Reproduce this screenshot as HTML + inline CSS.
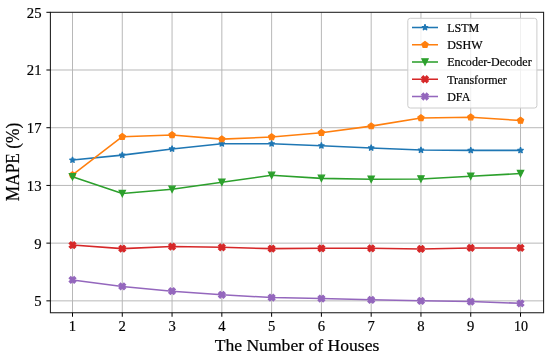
<!DOCTYPE html>
<html><head><meta charset="utf-8"><title>MAPE vs Number of Houses</title>
<style>html,body{margin:0;padding:0;background:#fff}svg{display:block}text{font-family:"Liberation Serif","Times New Roman",serif;fill:#000;stroke:#000;stroke-width:0.2px}</style></head><body>
<svg width="550" height="356" viewBox="0 0 550 356">
<rect width="550" height="356" fill="#fff"/>
<path d="M72.50 12.3 V312.75 M122.28 12.3 V312.75 M172.06 12.3 V312.75 M221.84 12.3 V312.75 M271.62 12.3 V312.75 M321.40 12.3 V312.75 M371.18 12.3 V312.75 M420.96 12.3 V312.75 M470.74 12.3 V312.75 M520.52 12.3 V312.75 M50.4 300.85 H543.6 M50.4 243.14 H543.6 M50.4 185.43 H543.6 M50.4 127.72 H543.6 M50.4 70.01 H543.6" stroke="#b4b4b4" stroke-width="0.95" fill="none"/>
<g><polyline points="72.50,160.04 122.28,155.13 172.06,148.93 221.84,143.73 271.62,143.73 321.40,145.75 371.18,147.92 420.96,150.08 470.74,150.37 520.52,150.37" fill="none" stroke="#1f77b4" stroke-width="1.55" stroke-linejoin="round" stroke-linecap="butt"/>
<polygon points="72.50,156.84 73.22,159.05 75.54,159.05 73.66,160.42 74.38,162.63 72.50,161.26 70.62,162.63 71.34,160.42 69.46,159.05 71.78,159.05" fill="#1f77b4" stroke="#1f77b4" stroke-width="1.2" stroke-linejoin="bevel"/>
<polygon points="122.28,151.93 123.00,154.14 125.32,154.14 123.44,155.51 124.16,157.72 122.28,156.35 120.40,157.72 121.12,155.51 119.24,154.14 121.56,154.14" fill="#1f77b4" stroke="#1f77b4" stroke-width="1.2" stroke-linejoin="bevel"/>
<polygon points="172.06,145.73 172.78,147.94 175.10,147.94 173.22,149.31 173.94,151.52 172.06,150.15 170.18,151.52 170.90,149.31 169.02,147.94 171.34,147.94" fill="#1f77b4" stroke="#1f77b4" stroke-width="1.2" stroke-linejoin="bevel"/>
<polygon points="221.84,140.53 222.56,142.75 224.88,142.75 223.00,144.11 223.72,146.32 221.84,144.96 219.96,146.32 220.68,144.11 218.80,142.75 221.12,142.75" fill="#1f77b4" stroke="#1f77b4" stroke-width="1.2" stroke-linejoin="bevel"/>
<polygon points="271.62,140.53 272.34,142.75 274.66,142.75 272.78,144.11 273.50,146.32 271.62,144.96 269.74,146.32 270.46,144.11 268.58,142.75 270.90,142.75" fill="#1f77b4" stroke="#1f77b4" stroke-width="1.2" stroke-linejoin="bevel"/>
<polygon points="321.40,142.55 322.12,144.77 324.44,144.77 322.56,146.13 323.28,148.34 321.40,146.98 319.52,148.34 320.24,146.13 318.36,144.77 320.68,144.77" fill="#1f77b4" stroke="#1f77b4" stroke-width="1.2" stroke-linejoin="bevel"/>
<polygon points="371.18,144.72 371.90,146.93 374.22,146.93 372.34,148.30 373.06,150.51 371.18,149.14 369.30,150.51 370.02,148.30 368.14,146.93 370.46,146.93" fill="#1f77b4" stroke="#1f77b4" stroke-width="1.2" stroke-linejoin="bevel"/>
<polygon points="420.96,146.88 421.68,149.09 424.00,149.09 422.12,150.46 422.84,152.67 420.96,151.30 419.08,152.67 419.80,150.46 417.92,149.09 420.24,149.09" fill="#1f77b4" stroke="#1f77b4" stroke-width="1.2" stroke-linejoin="bevel"/>
<polygon points="470.74,147.17 471.46,149.38 473.78,149.38 471.90,150.75 472.62,152.96 470.74,151.59 468.86,152.96 469.58,150.75 467.70,149.38 470.02,149.38" fill="#1f77b4" stroke="#1f77b4" stroke-width="1.2" stroke-linejoin="bevel"/>
<polygon points="520.52,147.17 521.24,149.38 523.56,149.38 521.68,150.75 522.40,152.96 520.52,151.59 518.64,152.96 519.36,150.75 517.48,149.38 519.80,149.38" fill="#1f77b4" stroke="#1f77b4" stroke-width="1.2" stroke-linejoin="bevel"/>
</g>
<g><polyline points="72.50,174.90 122.28,136.67 172.06,135.08 221.84,139.12 271.62,137.10 321.40,132.77 371.18,126.13 420.96,117.91 470.74,117.19 520.52,120.51" fill="none" stroke="#ff7f0e" stroke-width="1.55" stroke-linejoin="round" stroke-linecap="butt"/>
<polygon points="72.50,171.65 75.59,173.89 74.41,177.53 70.59,177.53 69.41,173.89" fill="#ff7f0e" stroke="#ff7f0e" stroke-width="1.2" stroke-linejoin="miter"/>
<polygon points="122.28,133.42 125.37,135.66 124.19,139.29 120.37,139.29 119.19,135.66" fill="#ff7f0e" stroke="#ff7f0e" stroke-width="1.2" stroke-linejoin="miter"/>
<polygon points="172.06,131.83 175.15,134.07 173.97,137.71 170.15,137.71 168.97,134.07" fill="#ff7f0e" stroke="#ff7f0e" stroke-width="1.2" stroke-linejoin="miter"/>
<polygon points="221.84,135.87 224.93,138.11 223.75,141.75 219.93,141.75 218.75,138.11" fill="#ff7f0e" stroke="#ff7f0e" stroke-width="1.2" stroke-linejoin="miter"/>
<polygon points="271.62,133.85 274.71,136.09 273.53,139.73 269.71,139.73 268.53,136.09" fill="#ff7f0e" stroke="#ff7f0e" stroke-width="1.2" stroke-linejoin="miter"/>
<polygon points="321.40,129.52 324.49,131.77 323.31,135.40 319.49,135.40 318.31,131.77" fill="#ff7f0e" stroke="#ff7f0e" stroke-width="1.2" stroke-linejoin="miter"/>
<polygon points="371.18,122.88 374.27,125.13 373.09,128.76 369.27,128.76 368.09,125.13" fill="#ff7f0e" stroke="#ff7f0e" stroke-width="1.2" stroke-linejoin="miter"/>
<polygon points="420.96,114.66 424.05,116.90 422.87,120.54 419.05,120.54 417.87,116.90" fill="#ff7f0e" stroke="#ff7f0e" stroke-width="1.2" stroke-linejoin="miter"/>
<polygon points="470.74,113.94 473.83,116.18 472.65,119.82 468.83,119.82 467.65,116.18" fill="#ff7f0e" stroke="#ff7f0e" stroke-width="1.2" stroke-linejoin="miter"/>
<polygon points="520.52,117.26 523.61,119.50 522.43,123.14 518.61,123.14 517.43,119.50" fill="#ff7f0e" stroke="#ff7f0e" stroke-width="1.2" stroke-linejoin="miter"/>
</g>
<g><polyline points="72.50,176.77 122.28,193.51 172.06,189.33 221.84,182.26 271.62,175.33 321.40,178.36 371.18,179.23 420.96,178.94 470.74,176.20 520.52,173.60" fill="none" stroke="#2ca02c" stroke-width="1.55" stroke-linejoin="round" stroke-linecap="butt"/>
<polygon points="72.50,179.92 75.65,173.62 69.35,173.62" fill="#2ca02c" stroke="#2ca02c" stroke-width="1.2" stroke-linejoin="miter"/>
<polygon points="122.28,196.66 125.43,190.36 119.13,190.36" fill="#2ca02c" stroke="#2ca02c" stroke-width="1.2" stroke-linejoin="miter"/>
<polygon points="172.06,192.48 175.21,186.18 168.91,186.18" fill="#2ca02c" stroke="#2ca02c" stroke-width="1.2" stroke-linejoin="miter"/>
<polygon points="221.84,185.41 224.99,179.11 218.69,179.11" fill="#2ca02c" stroke="#2ca02c" stroke-width="1.2" stroke-linejoin="miter"/>
<polygon points="271.62,178.48 274.77,172.18 268.47,172.18" fill="#2ca02c" stroke="#2ca02c" stroke-width="1.2" stroke-linejoin="miter"/>
<polygon points="321.40,181.51 324.55,175.21 318.25,175.21" fill="#2ca02c" stroke="#2ca02c" stroke-width="1.2" stroke-linejoin="miter"/>
<polygon points="371.18,182.38 374.33,176.08 368.03,176.08" fill="#2ca02c" stroke="#2ca02c" stroke-width="1.2" stroke-linejoin="miter"/>
<polygon points="420.96,182.09 424.11,175.79 417.81,175.79" fill="#2ca02c" stroke="#2ca02c" stroke-width="1.2" stroke-linejoin="miter"/>
<polygon points="470.74,179.35 473.89,173.05 467.59,173.05" fill="#2ca02c" stroke="#2ca02c" stroke-width="1.2" stroke-linejoin="miter"/>
<polygon points="520.52,176.75 523.67,170.45 517.37,170.45" fill="#2ca02c" stroke="#2ca02c" stroke-width="1.2" stroke-linejoin="miter"/>
</g>
<g><polyline points="72.50,245.09 122.28,248.62 172.06,246.60 221.84,247.32 271.62,248.62 321.40,248.33 371.18,248.33 420.96,248.91 470.74,247.90 520.52,247.90" fill="none" stroke="#d62728" stroke-width="1.55" stroke-linejoin="round" stroke-linecap="butt"/>
<polygon points="70.85,241.79 72.50,243.44 74.15,241.79 75.80,243.44 74.15,245.09 75.80,246.74 74.15,248.39 72.50,246.74 70.85,248.39 69.20,246.74 70.85,245.09 69.20,243.44" fill="#d62728" stroke="#d62728" stroke-width="1.2" stroke-linejoin="miter"/>
<polygon points="120.63,245.32 122.28,246.97 123.93,245.32 125.58,246.97 123.93,248.62 125.58,250.27 123.93,251.92 122.28,250.27 120.63,251.92 118.98,250.27 120.63,248.62 118.98,246.97" fill="#d62728" stroke="#d62728" stroke-width="1.2" stroke-linejoin="miter"/>
<polygon points="170.41,243.30 172.06,244.95 173.71,243.30 175.36,244.95 173.71,246.60 175.36,248.25 173.71,249.90 172.06,248.25 170.41,249.90 168.76,248.25 170.41,246.60 168.76,244.95" fill="#d62728" stroke="#d62728" stroke-width="1.2" stroke-linejoin="miter"/>
<polygon points="220.19,244.02 221.84,245.67 223.49,244.02 225.14,245.67 223.49,247.32 225.14,248.97 223.49,250.62 221.84,248.97 220.19,250.62 218.54,248.97 220.19,247.32 218.54,245.67" fill="#d62728" stroke="#d62728" stroke-width="1.2" stroke-linejoin="miter"/>
<polygon points="269.97,245.32 271.62,246.97 273.27,245.32 274.92,246.97 273.27,248.62 274.92,250.27 273.27,251.92 271.62,250.27 269.97,251.92 268.32,250.27 269.97,248.62 268.32,246.97" fill="#d62728" stroke="#d62728" stroke-width="1.2" stroke-linejoin="miter"/>
<polygon points="319.75,245.03 321.40,246.68 323.05,245.03 324.70,246.68 323.05,248.33 324.70,249.98 323.05,251.63 321.40,249.98 319.75,251.63 318.10,249.98 319.75,248.33 318.10,246.68" fill="#d62728" stroke="#d62728" stroke-width="1.2" stroke-linejoin="miter"/>
<polygon points="369.53,245.03 371.18,246.68 372.83,245.03 374.48,246.68 372.83,248.33 374.48,249.98 372.83,251.63 371.18,249.98 369.53,251.63 367.88,249.98 369.53,248.33 367.88,246.68" fill="#d62728" stroke="#d62728" stroke-width="1.2" stroke-linejoin="miter"/>
<polygon points="419.31,245.61 420.96,247.26 422.61,245.61 424.26,247.26 422.61,248.91 424.26,250.56 422.61,252.21 420.96,250.56 419.31,252.21 417.66,250.56 419.31,248.91 417.66,247.26" fill="#d62728" stroke="#d62728" stroke-width="1.2" stroke-linejoin="miter"/>
<polygon points="469.09,244.60 470.74,246.25 472.39,244.60 474.04,246.25 472.39,247.90 474.04,249.55 472.39,251.20 470.74,249.55 469.09,251.20 467.44,249.55 469.09,247.90 467.44,246.25" fill="#d62728" stroke="#d62728" stroke-width="1.2" stroke-linejoin="miter"/>
<polygon points="518.87,244.60 520.52,246.25 522.17,244.60 523.82,246.25 522.17,247.90 523.82,249.55 522.17,251.20 520.52,249.55 518.87,251.20 517.22,249.55 518.87,247.90 517.22,246.25" fill="#d62728" stroke="#d62728" stroke-width="1.2" stroke-linejoin="miter"/>
</g>
<g><polyline points="72.50,279.93 122.28,286.42 172.06,291.18 221.84,294.79 271.62,297.53 321.40,298.54 371.18,299.84 420.96,300.85 470.74,301.57 520.52,303.30" fill="none" stroke="#9467bd" stroke-width="1.55" stroke-linejoin="round" stroke-linecap="butt"/>
<polygon points="70.85,276.63 72.50,278.28 74.15,276.63 75.80,278.28 74.15,279.93 75.80,281.58 74.15,283.23 72.50,281.58 70.85,283.23 69.20,281.58 70.85,279.93 69.20,278.28" fill="#9467bd" stroke="#9467bd" stroke-width="1.2" stroke-linejoin="miter"/>
<polygon points="120.63,283.12 122.28,284.77 123.93,283.12 125.58,284.77 123.93,286.42 125.58,288.07 123.93,289.72 122.28,288.07 120.63,289.72 118.98,288.07 120.63,286.42 118.98,284.77" fill="#9467bd" stroke="#9467bd" stroke-width="1.2" stroke-linejoin="miter"/>
<polygon points="170.41,287.88 172.06,289.53 173.71,287.88 175.36,289.53 173.71,291.18 175.36,292.83 173.71,294.48 172.06,292.83 170.41,294.48 168.76,292.83 170.41,291.18 168.76,289.53" fill="#9467bd" stroke="#9467bd" stroke-width="1.2" stroke-linejoin="miter"/>
<polygon points="220.19,291.49 221.84,293.14 223.49,291.49 225.14,293.14 223.49,294.79 225.14,296.44 223.49,298.09 221.84,296.44 220.19,298.09 218.54,296.44 220.19,294.79 218.54,293.14" fill="#9467bd" stroke="#9467bd" stroke-width="1.2" stroke-linejoin="miter"/>
<polygon points="269.97,294.23 271.62,295.88 273.27,294.23 274.92,295.88 273.27,297.53 274.92,299.18 273.27,300.83 271.62,299.18 269.97,300.83 268.32,299.18 269.97,297.53 268.32,295.88" fill="#9467bd" stroke="#9467bd" stroke-width="1.2" stroke-linejoin="miter"/>
<polygon points="319.75,295.24 321.40,296.89 323.05,295.24 324.70,296.89 323.05,298.54 324.70,300.19 323.05,301.84 321.40,300.19 319.75,301.84 318.10,300.19 319.75,298.54 318.10,296.89" fill="#9467bd" stroke="#9467bd" stroke-width="1.2" stroke-linejoin="miter"/>
<polygon points="369.53,296.54 371.18,298.19 372.83,296.54 374.48,298.19 372.83,299.84 374.48,301.49 372.83,303.14 371.18,301.49 369.53,303.14 367.88,301.49 369.53,299.84 367.88,298.19" fill="#9467bd" stroke="#9467bd" stroke-width="1.2" stroke-linejoin="miter"/>
<polygon points="419.31,297.55 420.96,299.20 422.61,297.55 424.26,299.20 422.61,300.85 424.26,302.50 422.61,304.15 420.96,302.50 419.31,304.15 417.66,302.50 419.31,300.85 417.66,299.20" fill="#9467bd" stroke="#9467bd" stroke-width="1.2" stroke-linejoin="miter"/>
<polygon points="469.09,298.27 470.74,299.92 472.39,298.27 474.04,299.92 472.39,301.57 474.04,303.22 472.39,304.87 470.74,303.22 469.09,304.87 467.44,303.22 469.09,301.57 467.44,299.92" fill="#9467bd" stroke="#9467bd" stroke-width="1.2" stroke-linejoin="miter"/>
<polygon points="518.87,300.00 520.52,301.65 522.17,300.00 523.82,301.65 522.17,303.30 523.82,304.95 522.17,306.60 520.52,304.95 518.87,306.60 517.22,304.95 518.87,303.30 517.22,301.65" fill="#9467bd" stroke="#9467bd" stroke-width="1.2" stroke-linejoin="miter"/>
</g>
<rect x="50.4" y="12.3" width="493.20" height="300.45" fill="none" stroke="#1c1c1c" stroke-width="1.05"/>
<path d="M72.50 312.75 v4 M122.28 312.75 v4 M172.06 312.75 v4 M221.84 312.75 v4 M271.62 312.75 v4 M321.40 312.75 v4 M371.18 312.75 v4 M420.96 312.75 v4 M470.74 312.75 v4 M520.52 312.75 v4 M50.4 300.85 h-4 M50.4 243.14 h-4 M50.4 185.43 h-4 M50.4 127.72 h-4 M50.4 70.01 h-4 M50.4 12.30 h-4" stroke="#000" stroke-width="1" fill="none"/>
<text transform="translate(72.50 331.0) scale(0.96 1)" font-size="15.3" text-anchor="middle">1</text>
<text transform="translate(122.28 331.0) scale(0.96 1)" font-size="15.3" text-anchor="middle">2</text>
<text transform="translate(172.06 331.0) scale(0.96 1)" font-size="15.3" text-anchor="middle">3</text>
<text transform="translate(221.84 331.0) scale(0.96 1)" font-size="15.3" text-anchor="middle">4</text>
<text transform="translate(271.62 331.0) scale(0.96 1)" font-size="15.3" text-anchor="middle">5</text>
<text transform="translate(321.40 331.0) scale(0.96 1)" font-size="15.3" text-anchor="middle">6</text>
<text transform="translate(371.18 331.0) scale(0.96 1)" font-size="15.3" text-anchor="middle">7</text>
<text transform="translate(420.96 331.0) scale(0.96 1)" font-size="15.3" text-anchor="middle">8</text>
<text transform="translate(470.74 331.0) scale(0.96 1)" font-size="15.3" text-anchor="middle">9</text>
<text transform="translate(521.12 331.0) scale(0.92 1)" font-size="15.3" text-anchor="middle">10</text>
<text transform="translate(41.5 306.25) scale(0.95 1)" font-size="15.5" text-anchor="end">5</text>
<text transform="translate(41.5 248.54) scale(0.95 1)" font-size="15.5" text-anchor="end">9</text>
<text transform="translate(41.5 190.83) scale(0.95 1)" font-size="15.5" text-anchor="end">13</text>
<text transform="translate(41.5 133.12) scale(0.95 1)" font-size="15.5" text-anchor="end">17</text>
<text transform="translate(41.5 75.41) scale(0.95 1)" font-size="15.5" text-anchor="end">21</text>
<text transform="translate(41.5 17.70) scale(0.95 1)" font-size="15.5" text-anchor="end">25</text>
<text x="297" y="351.2" font-size="17.6" text-anchor="middle">The Number of Houses</text>
<text transform="translate(18.9 162.0) rotate(-90) scale(0.95 1)" font-size="18.3" text-anchor="middle">MAPE (%)</text>
<rect x="407.8" y="18.3" width="129.1" height="89.7" rx="2.5" ry="2.5" fill="#fff" fill-opacity="0.8" stroke="#ccc" stroke-width="1"/>
<path d="M412 27.50 H438" stroke="#1f77b4" stroke-width="1.55" fill="none"/>
<polygon points="425.00,24.30 425.72,26.51 428.04,26.51 426.16,27.88 426.88,30.09 425.00,28.72 423.12,30.09 423.84,27.88 421.96,26.51 424.28,26.51" fill="#1f77b4" stroke="#1f77b4" stroke-width="1.2" stroke-linejoin="bevel"/>
<text transform="translate(447.2 31.90) scale(0.955 1)" font-size="12.6">LSTM</text>
<path d="M412 44.75 H438" stroke="#ff7f0e" stroke-width="1.55" fill="none"/>
<polygon points="425.00,41.50 428.09,43.75 426.91,47.38 423.09,47.38 421.91,43.75" fill="#ff7f0e" stroke="#ff7f0e" stroke-width="1.2" stroke-linejoin="miter"/>
<text transform="translate(447.2 49.15) scale(0.955 1)" font-size="12.6">DSHW</text>
<path d="M412 62.00 H438" stroke="#2ca02c" stroke-width="1.55" fill="none"/>
<polygon points="425.00,65.15 428.15,58.85 421.85,58.85" fill="#2ca02c" stroke="#2ca02c" stroke-width="1.2" stroke-linejoin="miter"/>
<text transform="translate(447.2 66.40) scale(0.955 1)" font-size="12.6">Encoder-Decoder</text>
<path d="M412 79.25 H438" stroke="#d62728" stroke-width="1.55" fill="none"/>
<polygon points="423.35,75.95 425.00,77.60 426.65,75.95 428.30,77.60 426.65,79.25 428.30,80.90 426.65,82.55 425.00,80.90 423.35,82.55 421.70,80.90 423.35,79.25 421.70,77.60" fill="#d62728" stroke="#d62728" stroke-width="1.2" stroke-linejoin="miter"/>
<text transform="translate(447.2 83.65) scale(0.955 1)" font-size="12.6">Transformer</text>
<path d="M412 96.50 H438" stroke="#9467bd" stroke-width="1.55" fill="none"/>
<polygon points="423.35,93.20 425.00,94.85 426.65,93.20 428.30,94.85 426.65,96.50 428.30,98.15 426.65,99.80 425.00,98.15 423.35,99.80 421.70,98.15 423.35,96.50 421.70,94.85" fill="#9467bd" stroke="#9467bd" stroke-width="1.2" stroke-linejoin="miter"/>
<text transform="translate(447.2 100.90) scale(0.955 1)" font-size="12.6">DFA</text>
</svg></body></html>
